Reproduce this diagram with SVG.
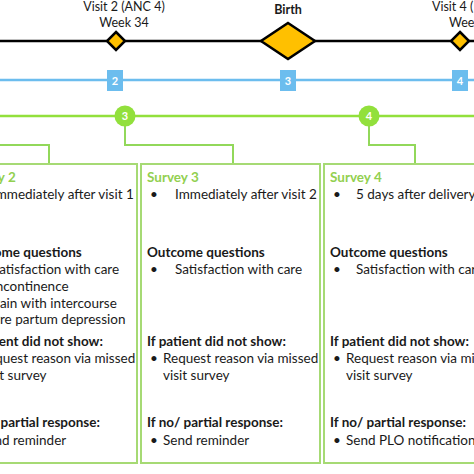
<svg xmlns="http://www.w3.org/2000/svg" width="474" height="474" viewBox="0 0 474 474">
<style>
text{font-family:Lato,"Liberation Sans",sans-serif;fill:#1a1a1a}
.lbl{font-size:12.5px}
.lblb{font-size:12.5px;font-weight:bold}
.t{font-size:13.5px}
.b{font-size:13.5px;font-weight:bold}
.h{font-size:13.5px;font-weight:bold;fill:#92d050}
.num{font-size:11px;font-weight:bold;fill:#fff;text-anchor:middle}
.box{fill:#fff;stroke:#a6da74;stroke-width:2}
.dia{fill:#ffc000;stroke:#000;stroke-width:2.5;stroke-linejoin:miter}
.sq{fill:#6cbdee}
.circ{fill:#92e03c}
.con{fill:none;stroke:#92d85a;stroke-width:2}
</style>
<rect width="474" height="474" fill="#fff"/>
<g id="timelines">
<line x1="0" y1="41" x2="474" y2="41" stroke="#000" stroke-width="2.5"/>
<line x1="0" y1="80" x2="474" y2="80" stroke="#6cbdee" stroke-width="2.5"/>
<line x1="0" y1="116" x2="474" y2="116" stroke="#92e03c" stroke-width="2.5"/>
</g>
<g id="connectors">
<path class="con" d="M-20,145 H49 V164"/>
<path class="con" d="M125,116 V145 H233 V164"/>
<path class="con" d="M369,116 V145 H415 V164"/>
</g>
<g id="visit2">
<text class="lbl" x="124" y="11" text-anchor="middle">Visit 2 (ANC 4)</text>
<text class="lbl" x="124" y="27" text-anchor="middle">Week 34</text>
<polygon class="dia" points="116,32 125,41 116,50 107,41"/>
</g>
<g id="birth">
<text class="lblb" x="288" y="14" text-anchor="middle">Birth</text>
<polygon class="dia" points="288,23 315,41 288,59 261,41"/>
</g>
<g id="visit4">
<text class="lbl" x="432" y="11">Visit 4 (</text>
<text class="lbl" x="449" y="27">Week</text>
<polygon class="dia" points="460,32 469,41 460,50 451,41"/>
</g>
<g id="sq2"><rect class="sq" x="107" y="70" width="16" height="21"/><text class="num" x="115" y="84.5">2</text></g>
<g id="sq3"><rect class="sq" x="280" y="70" width="16" height="21"/><text class="num" x="288" y="84.5">3</text></g>
<g id="sq4"><rect class="sq" x="452" y="70" width="16" height="21"/><text class="num" x="460" y="84.5">4</text></g>
<g id="c3"><circle class="circ" cx="125" cy="116" r="10.5"/><text class="num" x="125" y="120">3</text></g>
<g id="c4"><circle class="circ" cx="369" cy="116" r="10.5"/><text class="num" x="369" y="120">4</text></g>
<g id="survey2">
<rect class="box" x="-42" y="164" width="179" height="299"/>
<text class="h" x="-36" y="182">Survey 2</text>
<text class="t" x="-33" y="199">•</text><text class="t" x="-8" y="199">Immediately after visit 1</text>
<text class="b" x="-36" y="257">Outcome questions</text>
<text class="t" x="-33" y="274">•</text><text class="t" x="-8" y="274">Satisfaction with care</text>
<text class="t" x="-33" y="291">•</text><text class="t" x="-8" y="291">Incontinence</text>
<text class="t" x="-33" y="307.5">•</text><text class="t" x="-8" y="307.5">Pain with intercourse</text>
<text class="t" x="-33" y="324">•</text><text class="t" x="-8" y="324">Pre partum depression</text>
<text class="b" x="-36" y="346">If patient did not show:</text>
<text class="t" x="-33" y="363">•</text><text class="t" x="-20" y="363">Request reason via missed</text>
<text class="t" x="-20" y="380">visit survey</text>
<text class="b" x="-36" y="427">If no/ partial response:</text>
<text class="t" x="-33" y="445">•</text><text class="t" x="-20" y="445">Send reminder</text>
</g>
<g id="survey3">
<rect class="box" x="141" y="164" width="179" height="299"/>
<text class="h" x="147" y="182">Survey 3</text>
<text class="t" x="150" y="199">•</text><text class="t" x="175" y="199">Immediately after visit 2</text>
<text class="b" x="147" y="257">Outcome questions</text>
<text class="t" x="150" y="274">•</text><text class="t" x="175" y="274">Satisfaction with care</text>
<text class="b" x="147" y="346">If patient did not show:</text>
<text class="t" x="150" y="363">•</text><text class="t" x="163" y="363">Request reason via missed</text>
<text class="t" x="163" y="380">visit survey</text>
<text class="b" x="147" y="427">If no/ partial response:</text>
<text class="t" x="150" y="445">•</text><text class="t" x="163" y="445">Send reminder</text>
</g>
<g id="survey4">
<rect class="box" x="324" y="164" width="179" height="299"/>
<text class="h" x="330" y="182">Survey 4</text>
<text class="t" x="333" y="199">•</text><text class="t" x="356" y="199">5 days after delivery</text>
<text class="b" x="330" y="257">Outcome questions</text>
<text class="t" x="333" y="274">•</text><text class="t" x="356" y="274">Satisfaction with care</text>
<text class="b" x="330" y="346">If patient did not show:</text>
<text class="t" x="333" y="363">•</text><text class="t" x="346" y="363">Request reason via missed</text>
<text class="t" x="346" y="380">visit survey</text>
<text class="b" x="330" y="427">If no/ partial response:</text>
<text class="t" x="333" y="445">•</text><text class="t" x="346" y="445">Send PLO notification</text>
</g>
</svg>
